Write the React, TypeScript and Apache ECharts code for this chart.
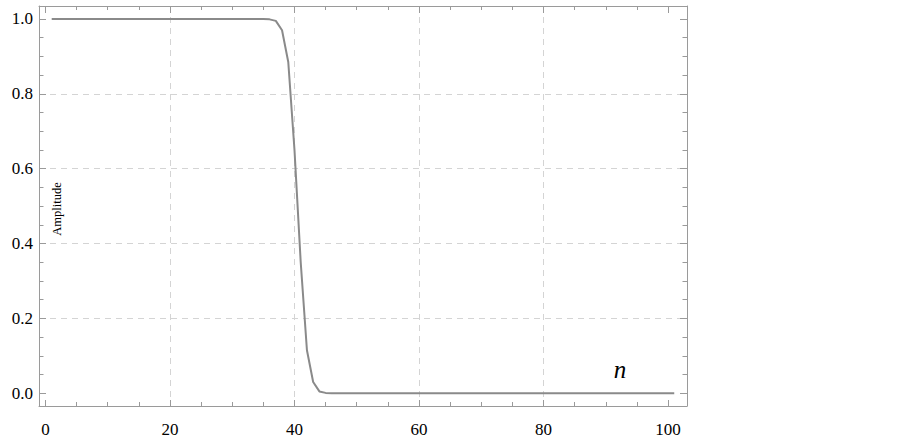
import React, { useEffect, useRef } from "react";
import * as echarts from "echarts";

// Amplitude for n = 1 .. 101
const nStart = 1;
const amplitude = [
  1, 1, 1, 1, 1, 1, 1, 1, 1, 1,
  1, 1, 1, 1, 1, 1, 1, 1, 1, 1,
  1, 1, 1, 1, 1, 1, 1, 1, 1, 1,
  1, 1, 1, 1, 1,
  0.999, 0.995, 0.97, 0.885, 0.65, 0.35, 0.115, 0.03, 0.005, 0.001,
  0, 0, 0, 0, 0, 0, 0, 0, 0, 0,
  0, 0, 0, 0, 0, 0, 0, 0, 0, 0,
  0, 0, 0, 0, 0, 0, 0, 0, 0, 0,
  0, 0, 0, 0, 0, 0, 0, 0, 0, 0,
  0, 0, 0, 0, 0, 0, 0, 0, 0, 0,
  0, 0, 0, 0, 0, 0,
];

const xMajor = [0, 20, 40, 60, 80, 100];
const xMinor = [5, 10, 15, 25, 30, 35, 45, 50, 55, 65, 70, 75, 85, 90, 95];
const xGrid = [20, 40, 60, 80];
const yMajor = [0, 0.2, 0.4, 0.6, 0.8, 1.0];
const yMinor = [0.05, 0.1, 0.15, 0.25, 0.3, 0.35, 0.45, 0.5, 0.55, 0.65, 0.7, 0.75, 0.85, 0.9, 0.95];
const yGrid = [0.2, 0.4, 0.6, 0.8];

const X_MIN = -1.04;
const X_MAX = 103.05;
const Y_MIN = -0.034;
const Y_MAX = 1.0347;

const FRAME = "#9a9a9a";
const GRID = "#d4d4d4";
const CURVE = "#8a8a8a";
const FONT = "'Liberation Serif', 'Times New Roman', 'DejaVu Serif', serif";

export default function App() {
  const ref = useRef<HTMLDivElement>(null);

  useEffect(() => {
    if (!ref.current) return;
    const chart = echarts.init(ref.current, undefined, { renderer: "svg" });

    const points = amplitude.map((v, i) => [nStart + i, v]);

    const baseX = (extra: any) => ({
      type: "value",
      min: X_MIN,
      max: X_MAX,
      axisTick: { show: false },
      axisLabel: { show: false },
      splitLine: { show: false },
      ...extra,
      axisLine: { onZero: false, show: false, ...(extra.axisLine || {}) },
    });
    const baseY = (extra: any) => ({
      type: "value",
      min: Y_MIN,
      max: Y_MAX,
      axisTick: { show: false },
      axisLabel: { show: false },
      splitLine: { show: false },
      ...extra,
      axisLine: { onZero: false, show: false, ...(extra.axisLine || {}) },
    });

    chart.setOption({
      animation: false,
      grid: { left: 39, right: 216, top: 6, bottom: 34, containLabel: false, outerBoundsMode: "none" },
      xAxis: [
        baseX({
          position: "bottom",
          axisLine: { show: true, lineStyle: { color: FRAME, width: 1 } },
          axisTick: { show: true, inside: true, length: 6, customValues: xMajor, lineStyle: { color: FRAME } },
          axisLabel: {
            show: true,
            customValues: xMajor,
            margin: 15,
            color: "#000",
            fontFamily: FONT,
            fontSize: 17,
            formatter: (v: number) => String(Math.round(v)),
          },
        }),
        baseX({
          position: "bottom",
          axisTick: { show: true, inside: true, length: 4, customValues: xMinor, lineStyle: { color: FRAME } },
        }),
        baseX({
          position: "top",
          axisLine: { show: true, lineStyle: { color: FRAME, width: 1 } },
          axisTick: { show: true, inside: true, length: 7, customValues: xMajor, lineStyle: { color: FRAME } },
        }),
        baseX({
          position: "top",
          axisTick: { show: true, inside: true, length: 4, customValues: xMinor, lineStyle: { color: FRAME } },
        }),
        baseX({
          position: "bottom",
          axisTick: { show: false, customValues: xGrid },
          splitLine: { show: true, lineStyle: { color: GRID, width: 1, type: [6, 5] } },
        }),
      ],
      yAxis: [
        baseY({
          position: "left",
          axisLine: { show: true, lineStyle: { color: FRAME, width: 1 } },
          axisTick: { show: true, inside: true, length: 7, customValues: yMajor, lineStyle: { color: FRAME } },
          axisLabel: {
            show: true,
            customValues: yMajor,
            margin: 6,
            color: "#000",
            fontFamily: FONT,
            fontSize: 17,
            formatter: (v: number) => v.toFixed(1),
          },
        }),
        baseY({
          position: "left",
          axisTick: { show: true, inside: true, length: 4.5, customValues: yMinor, lineStyle: { color: FRAME } },
        }),
        baseY({
          position: "right",
          axisLine: { show: true, lineStyle: { color: FRAME, width: 1 } },
          axisTick: { show: true, inside: true, length: 7, customValues: yMajor, lineStyle: { color: FRAME } },
        }),
        baseY({
          position: "right",
          axisTick: { show: true, inside: true, length: 4.5, customValues: yMinor, lineStyle: { color: FRAME } },
        }),
        baseY({
          position: "left",
          axisTick: { show: false, customValues: yGrid },
          splitLine: { show: true, lineStyle: { color: GRID, width: 1, type: [6, 5] } },
        }),
      ],
      graphic: [
        {
          type: "text",
          x: 620,
          y: 369,
          style: {
            text: "n",
            fontFamily: FONT,
            fontStyle: "italic",
            fontSize: 25,
            fill: "#000",
            align: "center",
            verticalAlign: "middle",
          },
          z: 10,
        },
        {
          type: "text",
          x: 57,
          y: 209,
          rotation: Math.PI / 2,
          style: {
            text: "Amplitude",
            fontFamily: FONT,
            fontSize: 12.5,
            fill: "#000",
            align: "center",
            verticalAlign: "middle",
          },
          z: 10,
        },
      ],
      series: [
        {
          type: "line",
          xAxisIndex: 0,
          yAxisIndex: 0,
          data: points,
          showSymbol: false,
          symbol: "none",
          lineStyle: { color: CURVE, width: 2 },
          z: 5,
          silent: true,
        },
      ],
    });

    return () => chart.dispose();
  }, []);

  return (
    <div
      ref={ref}
      style={{ position: "fixed", left: 0, top: 0, width: 903, height: 440, background: "#fff" }}
    />
  );
}
